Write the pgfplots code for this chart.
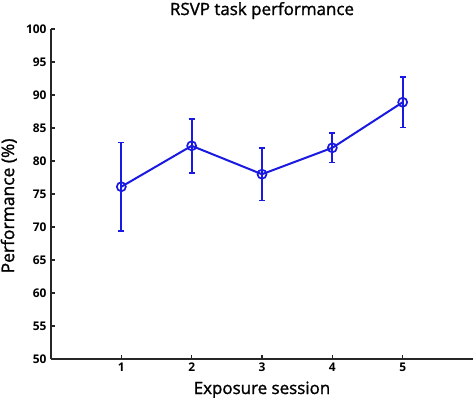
\documentclass[border=0pt]{standalone}
\usepackage{pgfplots}
\pgfplotsset{compat=1.18}
\usepackage{fontspec}
\setmainfont{Open Sans}
\newfontfamily\semi{Open Sans}[FakeBold=1.3]
\definecolor{lineblue}{RGB}{25,25,225}
\begin{document}
\begin{tikzpicture}[x=1bp,y=1bp]
\useasboundingbox (-51bp,-39bp) rectangle (423bp,359bp);
\begin{axis}[
  at={(0,0)}, anchor=origin,
  scale only axis, width=422bp, height=330bp,
  xmin=0, xmax=6, ymin=50, ymax=100,
  axis x line=bottom, axis y line=left,
  axis line style={-, line width=1.8bp, black!85},
  xtick={1,2,3,4,5}, ytick={50,55,...,100},
  tick align=inside, major tick length=4bp,
  tick style={line width=1.3bp, black!85},
  /pgf/number format/assume math mode=true,
  ticklabel style={font=\fontsize{12}{14}\selectfont\bfseries},
  yticklabel style={xshift=-1bp},
  title={RSVP task performance},
  title style={font=\fontsize{17}{19}\selectfont\semi, at={(axis description cs:0.5,1)}, anchor=base, yshift=8bp},
  xlabel={Exposure session},
  xlabel style={font=\fontsize{17}{19}\selectfont\semi, at={(axis description cs:0.5,0)}, anchor=base, yshift=-35bp},
  ylabel={Performance (\%)},
  ylabel style={font=\fontsize{17.5}{19}\selectfont\semi, at={(axis description cs:-0.1,0.464)}, anchor=center},
  clip=false,
]
\addplot[lineblue, line width=2bp, mark=o, mark size=4.5bp,
  mark options={line width=1.7bp},
  error bars/.cd, y dir=both, y explicit,
  error bar style={line width=2bp},
  error mark options={rotate=90, mark size=3bp, line width=1.6bp}]
coordinates {
  (1,76.1) +- (0,6.7)
  (2,82.3) +- (0,4.1)
  (3,78.0) +- (0,4.0)
  (4,82.0) +- (0,2.2)
  (5,88.9) +- (0,3.8)
};
\end{axis}
\end{tikzpicture}
\end{document}
